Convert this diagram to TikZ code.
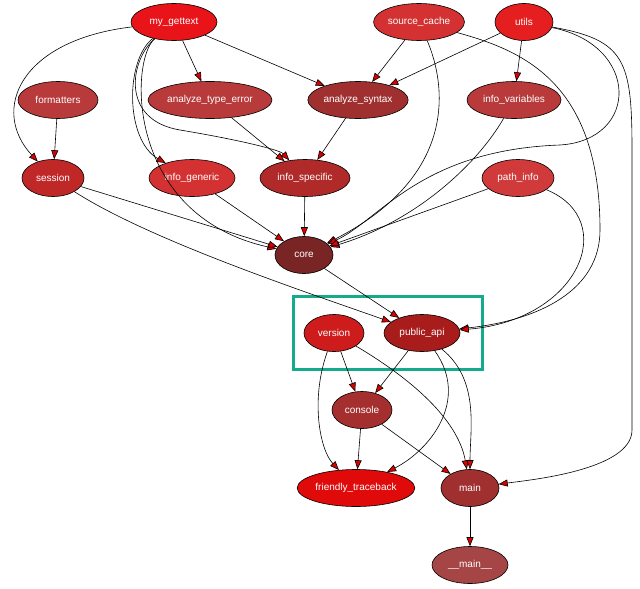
\documentclass[tikz,border=0pt]{standalone}
\usepackage{fontspec}
\setmainfont{Liberation Sans}
\usetikzlibrary{arrows.meta,shapes.geometric}
\begin{document}
\begin{tikzpicture}[x=1pt,y=-1pt,
 n/.style={ellipse,draw=black,line width=0.6pt,text=white,font=\fontsize{10}{11}\selectfont,minimum height=37pt,inner sep=1pt},
 e/.style={-{Triangle[length=9pt,width=7pt,fill=red!85!black]},line width=0.6pt}]
\useasboundingbox (0,0) rectangle (640,589);
\definecolor{c1}{HTML}{E8141A}\definecolor{c2}{HTML}{D43232}\definecolor{c3}{HTML}{E51F1F}
\definecolor{c4}{HTML}{B83A3A}\definecolor{c5}{HTML}{A03030}\definecolor{c6}{HTML}{C02828}
\definecolor{c7}{HTML}{B02A2A}\definecolor{c8}{HTML}{7A2525}\definecolor{c9}{HTML}{A81C1C}
\definecolor{c10}{HTML}{E00A0A}\definecolor{c11}{HTML}{A54545}\definecolor{c12}{HTML}{D03A3A}
\node[n,fill=c1,minimum width=86pt] (mg) at (174,22) {my\_gettext};
\node[n,fill=c2,minimum width=86pt] (sc) at (419,22) {source\_cache};
\node[n,fill=c3,minimum width=58pt] (ut) at (524,22) {utils};
\node[n,fill=c4,minimum width=80pt] (fo) at (58,100) {formatters};
\node[n,fill=c4,minimum width=112pt] (at) at (210,100) {analyze\_type\_error};
\node[n,fill=c5,minimum width=100pt] (as) at (358,100) {analyze\_syntax};
\node[n,fill=c4,minimum width=94pt] (iv) at (514,100) {info\_variables};
\node[n,fill=c6,minimum width=62pt] (se) at (53,178) {session};
\node[n,fill=c2,minimum width=86pt] (ig) at (192,178) {info\_generic};
\node[n,fill=c7,minimum width=90pt] (is) at (305,178) {info\_specific};
\node[n,fill=c12,minimum width=72pt] (pi) at (518,178) {path\_info};
\node[n,fill=c8,minimum width=58pt] (co) at (304,255) {core};
\node[n,fill=c3!90!black,minimum width=60pt] (ve) at (334,333) {version};
\node[n,fill=c9,minimum width=76pt] (pa) at (422,333) {public\_api};
\node[n,fill=c5!95!red,minimum width=60pt] (cn) at (362,410) {console};
\node[n,fill=c10,minimum width=112pt] (ft) at (356,488) {friendly\_traceback};
\node[n,fill=c5,minimum width=58pt] (ma) at (470,488) {main};
\node[n,fill=c11,minimum width=76pt] (mm) at (470,565) {\_\_main\_\_};
\draw[draw={rgb,255:red,20;green,170;blue,140},line width=3pt] (293,296) rectangle (482,369);
\draw[e] (mg) .. controls (20,40) and (-10,110) .. (se);
\draw[e] (mg) -- (at);
\draw[e] (mg) -- (as);
\draw[e] (mg) .. controls (125,60) and (125,140) .. (ig);
\draw[e] (mg) .. controls (130,60) and (120,120) .. (180,130) .. controls (240,140) and (280,150) .. (is);
\draw[e] (mg) .. controls (130,60) and (125,215) .. (co);
\draw[e] (fo) -- (se);
\draw[e] (at) -- (is);
\draw[e] (as) -- (is);
\draw[e] (sc) -- (as);
\draw[e] (ut) -- (as);
\draw[e] (ut) -- (iv);
\draw[e] (sc) .. controls (440,70) and (470,170) .. (co);
\draw[e] (sc) .. controls (520,50) and (600,80) .. (600,230) .. controls (600,290) and (540,320) .. (pa);
\draw[e] (ut) .. controls (640,45) and (640,140) .. (560,145) .. controls (420,150) and (380,220) .. (co);
\draw[e] (ut) .. controls (625,40) and (632,60) .. (632,150) -- (632,430) .. controls (632,470) and (530,480) .. (ma);
\draw[e] (iv) .. controls (480,160) and (420,220) .. (co);
\draw[e] (pi) -- (co);
\draw[e] (pi) .. controls (620,220) and (580,320) .. (pa);
\draw[e] (se) -- (co);
\draw[e] (se) .. controls (150,240) and (300,290) .. (pa);
\draw[e] (ig) -- (co);
\draw[e] (is) -- (co);
\draw[e] (co) -- (pa);
\draw[e] (ve) -- (cn);
\draw[e] (ve) .. controls (310,400) and (320,450) .. (ft);
\draw[e] (ve) .. controls (430,390) and (460,430) .. (ma);
\draw[e] (pa) -- (cn);
\draw[e] (pa) .. controls (480,380) and (470,430) .. (ma);
\draw[e] (pa) .. controls (470,400) and (430,450) .. (ft);
\draw[e] (cn) -- (ft);
\draw[e] (cn) -- (ma);
\draw[e] (ma) -- (mm);
\end{tikzpicture}
\end{document}
